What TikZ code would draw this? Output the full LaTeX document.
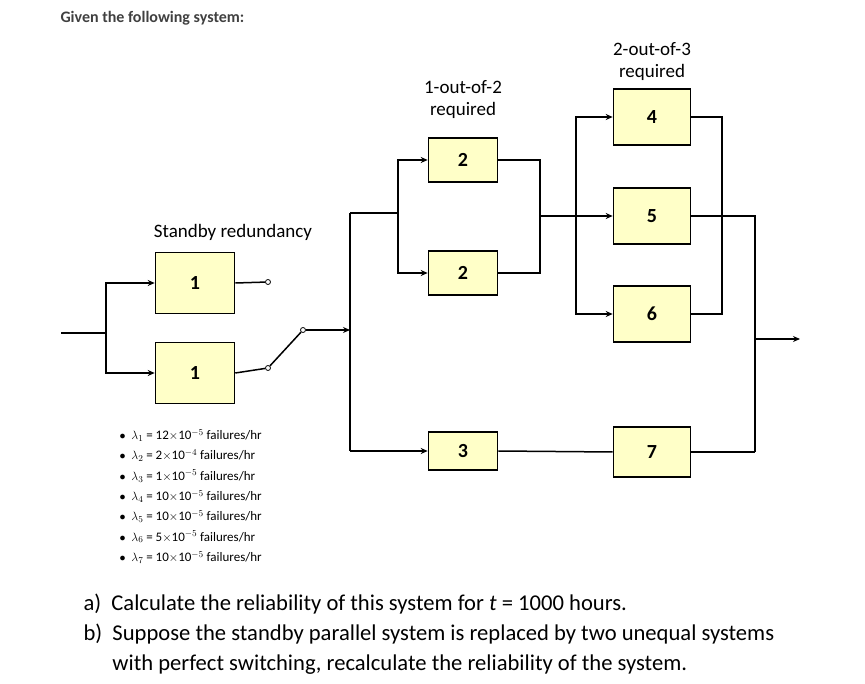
\documentclass[tikz,border=0pt]{standalone}
\usepackage{fontspec}
\setmainfont{Carlito}
\usetikzlibrary{arrows.meta}
\begin{document}
\begin{tikzpicture}[x=1pt,y=-1pt,
  blk/.style={draw,line width=1.6pt,fill={rgb,255:red,255;green,255;blue,200},inner sep=0pt,font=\fontsize{20}{20}\selectfont\bfseries},
  w/.style={line width=1.5pt},
  a/.style={w,-{Stealth[length=7pt,width=6pt]}},
  sw/.style={circle,draw,line width=0.8pt,fill=white,inner sep=0pt,minimum size=5pt},
  lab/.style={font=\fontsize{19}{22}\selectfont,align=center}]
\useasboundingbox (0,0) rectangle (865,684);
% boxes
\node[blk,minimum width=79pt,minimum height=61pt] (b1a) at (195,283) {1};
\node[blk,minimum width=79pt,minimum height=61pt] (b1b) at (195,373) {1};
\node[blk,minimum width=69pt,minimum height=44pt] (b2a) at (463,160) {2};
\node[blk,minimum width=69pt,minimum height=44pt] (b2b) at (463,273) {2};
\node[blk,minimum width=69pt,minimum height=38pt] (b3) at (463,451) {3};
\node[blk,minimum width=77pt,minimum height=56pt] (b4) at (652,117) {4};
\node[blk,minimum width=77pt,minimum height=56pt] (b5) at (652,216) {5};
\node[blk,minimum width=77pt,minimum height=56pt] (b6) at (652,314) {6};
\node[blk,minimum width=77pt,minimum height=50pt] (b7) at (652,452) {7};
% standby
\coordinate (in) at (61,333);
\coordinate (j1) at (106,333);
\draw[w] (in) -- (j1);
\draw[a] (j1) |- (b1a.west);
\draw[a] (j1) |- (b1b.west);
\node[sw] (s1) at (268,282) {};
\node[sw] (s2) at (268,368) {};
\node[sw] (s3) at (303,330) {};
\draw[w] (b1a.east) -- (s1);
\draw[w] (b1b.east) -- (s2);
\draw[w] (s2) -- (s3);
\coordinate (bus) at (350,330);
\draw[a] (s3) -- (bus);
% middle bus
\coordinate (bt) at (350,213);
\coordinate (bb) at (350,451);
\draw[w] (bt) -- (bb);
\coordinate (j2) at (398,213);
\draw[w] (bt) -- (j2);
\draw[a] (j2) |- (b2a.west);
\draw[a] (j2) |- (b2b.west);
\draw[a] (bb) -- (b3.west);
\coordinate (j3) at (540,216);
\draw[w] (b2a.east) -| (j3);
\draw[w] (b2b.east) -| (j3);
% 2-out-of-3
\coordinate (l4) at (576,216);
\draw[a] (j3) -- (b5.west);
\draw[a] (l4) |- (b4.west);
\draw[a] (l4) |- (b6.west);
\coordinate (r) at (722,216);
\draw[w] (b4.east) -| (r);
\draw[w] (b6.east) -| (r);
\coordinate (o1) at (755,216);
\coordinate (o2) at (755,452);
\draw[w] (b5.east) -- (o1) -- (o2);
\draw[w] (b3.east) -- (b7.west);
\draw[w] (b7.east) -- (o2);
\coordinate (o3) at (755,339);
\coordinate (out) at (800,339);
\draw[a] (o3) -- (out);
% text
\node[anchor=west,font=\fontsize{16}{18}\selectfont\bfseries,text=black!75] (t0) at (57,18) {Given the following system:};
\node[lab] (t1) at (233,232) {Standby redundancy};
\node[lab] (t2) at (463,100) {1-out-of-2\\required};
\node[lab] (t3) at (652,62) {2-out-of-3\\required};
\node[anchor=north west,font=\fontsize{13}{20.3}\selectfont,align=left] (t4) at (116,426) {%
$\bullet$\ \ $\lambda_1$ = 12$\times$10$^{-5}$ failures/hr\\
$\bullet$\ \ $\lambda_2$ = 2$\times$10$^{-4}$ failures/hr\\
$\bullet$\ \ $\lambda_3$ = 1$\times$10$^{-5}$ failures/hr\\
$\bullet$\ \ $\lambda_4$ = 10$\times$10$^{-5}$ failures/hr\\
$\bullet$\ \ $\lambda_5$ = 10$\times$10$^{-5}$ failures/hr\\
$\bullet$\ \ $\lambda_6$ = 5$\times$10$^{-5}$ failures/hr\\
$\bullet$\ \ $\lambda_7$ = 10$\times$10$^{-5}$ failures/hr};
\node[anchor=north west,font=\fontsize{22.6}{30}\selectfont,align=left] (t5) at (80,590) {%
a)\ \ Calculate the reliability of this system for \textit{t} = 1000 hours.\\
b)\ \ Suppose the standby parallel system is replaced by two unequal systems\\
\phantom{b)\ \ }with perfect switching, recalculate the reliability of the system.};
\end{tikzpicture}
\end{document}
